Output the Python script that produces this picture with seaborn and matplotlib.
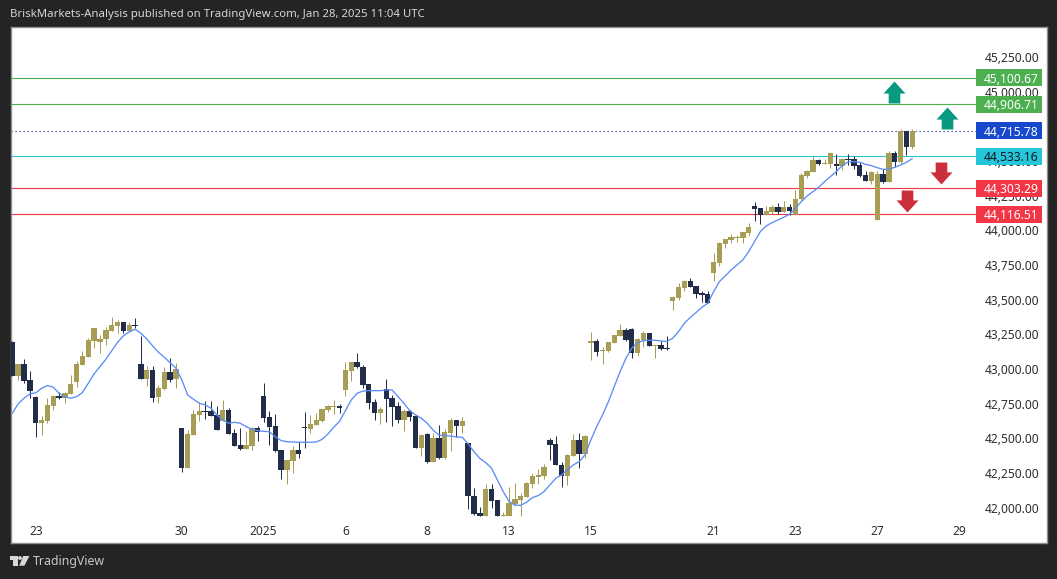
import matplotlib
matplotlib.use("Agg")
import matplotlib.pyplot as plt
import matplotlib.transforms as mtransforms
from matplotlib.patches import Polygon, Circle, Rectangle
from matplotlib.path import Path
import pandas as pd
import seaborn as sns

# Four-hour candles of the index
opens = [43195,42950,43037,42922,42799,42612,42626,42734,42806,42792,42821,42907,43030,43087,43203,43195,43217,43275,43311,43339,43275,43315,43037,42929,42994,42799,42857,42979,42929,42576,42287,42525,42669,42698,42698,42669,42626,42705,42540,42453,42424,42446,42576,
         42805,42654,42589,42416,42272,42337,42416,42582,42568,42596,42625,42705,42726,42733,42849,42986,43050,43014,42892,42762,42683,42856,42791,42733,42633,42697,42661,42431,42532,42330,42503,42359,42539,42633,42589,42467,42085,
         41963,41941,42136,42057,41941,41941,42028,42057,42078,42172,42222,42230,42489,42460,42309,42230,42374,42489,42388,43188,43202,43130,43130,43188,43238,43282,43289,43116,43210,43260,43166,43174,43152,43491,43512,43584,43635,43599,43548,43541,
         43692,43764,43901,43930,43945,43945,43981,44175,44161,44110,44132,44168,44132,44168,44110,44226,44391,44420,44507,44478,44478,44478,44463,44514,44514,44471,44399,44355,44074,44406,44348,44557,44492,44716,44600]
highs = [43203,43037,43073,42986,42806,42662,42792,42813,42835,42835,42958,43058,43130,43224,43296,43246,43303,43375,43354,43339,43339,43368,43239,43022,43022,42885,43015,43080,43044,42576,42561,42705,42763,42770,42770,42734,42777,42720,42568,42576,42554,42583,42590,
         42899,42697,42676,42416,42344,42445,42474,42690,42669,42683,42712,42741,42777,42748,43050,43050,43115,43029,42892,42784,42726,42928,42813,42762,42712,42705,42661,42532,42539,42539,42596,42568,42647,42633,42654,42467,42143,
         42005,42172,42172,42057,41970,42150,42179,42107,42186,42251,42280,42316,42503,42518,42330,42388,42532,42539,42525,43267,43217,43159,43195,43246,43325,43296,43296,43224,43274,43260,43174,43202,43238,43527,43620,43642,43656,43599,43563,43563,
         43837,43916,43937,43973,43966,43988,44053,44204,44161,44175,44182,44197,44211,44190,44291,44413,44435,44536,44514,44514,44557,44550,44521,44550,44536,44492,44427,44427,44427,44442,44572,44572,44730,44716,44730]
lows = [42950,42922,42900,42792,42511,42525,42612,42705,42785,42756,42821,42871,43030,43087,43152,43116,43174,43275,43260,43260,43275,43296,42929,42878,42763,42756,42849,42907,42864,42259,42287,42525,42626,42640,42662,42561,42626,42532,42446,42417,42424,42417,42482,
        42618,42452,42402,42207,42171,42251,42359,42431,42539,42596,42618,42690,42676,42683,42805,42914,43007,42863,42712,42633,42604,42618,42589,42611,42553,42625,42431,42373,42323,42330,42351,42351,42409,42510,42539,41991,41948,
        41941,41941,42000,41941,41941,41941,42021,41941,42078,42143,42172,42208,42345,42309,42150,42165,42374,42287,42359,43065,43094,43037,43123,43188,43238,43202,43080,43094,43159,43166,43080,43138,43138,43426,43498,43563,43591,43512,43483,43476,
        43635,43743,43873,43909,43916,43909,43959,44067,44046,44110,44118,44118,44132,44110,44110,44218,44377,44420,44471,44478,44449,44399,44435,44471,44442,44384,44355,44334,44074,44341,44348,44456,44478,44543,44586]
closes = [42950,43037,42914,42842,42612,42633,42741,42806,42792,42828,42893,43037,43094,43210,43296,43217,43282,43318,43339,43275,43318,43311,42929,42994,42792,42864,42979,42922,43001,42287,42532,42677,42698,42691,42662,42561,42705,42532,42446,42424,42453,42576,42547,
          42647,42582,42409,42272,42344,42416,42388,42575,42604,42633,42712,42733,42733,42719,42993,43050,43014,42885,42755,42683,42712,42784,42726,42633,42697,42654,42431,42524,42330,42503,42359,42546,42633,42589,42625,42085,41955,
          41941,42136,42049,41941,41948,42035,42064,42085,42179,42230,42237,42294,42453,42309,42230,42381,42489,42388,42518,43202,43123,43138,43195,43246,43282,43210,43116,43217,43260,43166,43174,43145,43145,43519,43591,43635,43591,43541,43534,43476,
          43772,43909,43937,43952,43952,43988,44024,44154,44110,44139,44168,44132,44168,44139,44226,44399,44427,44507,44478,44485,44557,44463,44514,44507,44463,44391,44355,44420,44406,44348,44557,44492,44716,44600,44715.78]

# Moving average drawn over the candles
moving_avg = [42681,42749,42789,42821,42828,42861,42881,42869,42825,42801,42789,42801,42830,42898,42965,43018,43070,43130,43191,43239,43267,43287,43258,43217,43167,43121,43085,43046,43006,42922,42813,42782,42753,42741,42717,42669,42633,42609,42616,42609,42585,42566,42556,
              42551,42548,42512,42484,42476,42474,42472,42472,42472,42474,42493,42532,42580,42623,42700,42777,42825,42841,42844,42844,42844,42849,42849,42801,42753,42700,42669,42645,42609,42560,42524,42520,42517,42510,42508,42460,42404,42356,
              42326,42285,42201,42117,42045,42018,42018,42040,42073,42088,42117,42165,42213,42237,42273,42309,42333,42381,42489,42585,42669,42765,42873,42981,43077,43150,43190,43205,43207,43207,43202,43198,43222,43270,43330,43371,43407,43445,43474,43558,43630,43671,43714,
              43750,43786,43846,43918,43990,44031,44055,44074,44094,44115,44158,44206,44247,44279,44310,44351,44387,44423,44466,44492,44495,44490,44475,44466,44451,44439,44439,44454,44471,44490,44516]

# Horizontal price levels and their tags
level_prices = [45100.67, 44906.71, 44533.16, 44303.29, 44116.51]
level_labels = ["45,100.67", "44,906.71", "44,533.16", "44,303.29", "44,116.51"]
level_colors = ["#4CAF50", "#4CAF50", "#26C6DA", "#F23645", "#F23645"]
level_text = ["#ffffff", "#ffffff", "#131722", "#ffffff", "#ffffff"]
last_price = 44715.78
last_label = "44,715.78"

# Scenario arrows: candle slot and price
up_arrow_x = [150.9, 159.9]
up_arrow_y = [44997, 44809]
down_arrow_x = [158.9, 153.1]
down_arrow_y = [44413, 44211]

# Axis ticks
date_ticks = [4, 29, 43, 57, 71, 85, 99, 120, 134, 148, 162]
date_labels = ["23", "30", "2025", "6", "8", "13", "15", "21", "23", "27", "29"]
price_ticks = list(range(42000, 45500, 250))

GOLD = "#A89D55"
NAVY = "#222D4A"
FRAME = "#242424"

sns.set_theme(style="white")
plt.rcParams["font.family"] = ["Noto Sans", "DejaVu Sans"]

df = pd.DataFrame({"slot": range(len(opens)), "open": opens, "high": highs,
                   "low": lows, "close": closes, "ma": moving_avg})
df["rising"] = df["close"] >= df["open"]
df["colour"] = df["rising"].map({True: GOLD, False: NAVY})

fig = plt.figure(figsize=(10.57, 5.79), dpi=100, facecolor=FRAME)
ax = fig.add_axes([10.5 / 1057, 36 / 579, 1036.5 / 1057, 516 / 579])
ax.set_facecolor("white")

# Candles: wick first, then the body, with the wick snapped to a single pixel
wicks = ax.vlines(df["slot"], df["low"], df["high"], colors=df["colour"], linewidth=0.72, zorder=2)
wicks.set_snap(True)
ax.bar(df["slot"], (df["close"] - df["open"]).abs(), bottom=df[["open", "close"]].min(axis=1),
       width=0.92, color=df["colour"], linewidth=0, zorder=3)

sns.lineplot(data=df, x="slot", y="ma", ax=ax, color="#5B8DF5", linewidth=0.95,
             legend=False, zorder=4)

# Level lines stop at the tag column
line_end = (976 - 10.5) / 1036.5
for price, colour in zip(level_prices, level_colors):
    ax.axhline(price, xmax=line_end, color=colour, linewidth=0.8, zorder=1)
ax.axhline(last_price, xmax=line_end, color="#2A3A9C", linewidth=0.9,
           linestyle=(0, (1, 2.2)), zorder=1)

# Block arrows as custom markers
up_path = Path([(-1, -0.1), (0, 1), (1, -0.1), (0.53, -0.1), (0.53, -1), (-0.53, -1), (-0.53, -0.1), (-1, -0.1)], closed=True)
down_path = Path([(-1, 0.1), (0, -1), (1, 0.1), (0.53, 0.1), (0.53, 1), (-0.53, 1), (-0.53, 0.1), (-1, 0.1)], closed=True)
ax.scatter(up_arrow_x, up_arrow_y, marker=up_path, s=250, color="#089981", linewidth=0, zorder=5)
ax.scatter(down_arrow_x, down_arrow_y, marker=down_path, s=250, color="#CC2F3C", linewidth=0, zorder=5)

ax.set_xlim(-0.31, 177.05)
ax.set_ylim(41746, 45465)
ax.set_xlabel("")
ax.set_ylabel("")

ax.set_xticks(date_ticks)
x_labels = ax.set_xticklabels(date_labels, fontsize=8.6, color="#2e2e2e")
ax.tick_params(axis="x", length=0, pad=-13, direction="in")
x_labels[date_labels.index("2025")].set_fontweight("bold")

ax.yaxis.tick_right()
ax.set_yticks(price_ticks)
y_labels = ax.set_yticklabels([f"{p:,.2f}" for p in price_ticks], fontsize=8.6, color="#2e2e2e")
ax.tick_params(axis="y", length=0, pad=-45, direction="in")
for lab in y_labels:
    lab.set_verticalalignment("center_baseline")
    lab.set_zorder(1)

for side in ax.spines.values():
    side.set_color("#8f8f8f")
    side.set_linewidth(1)

# Price tags sit on top of the tick labels
tag_x = mtransforms.blended_transform_factory(ax.transAxes, ax.transData)
tag_text_left = (984 - 10.5) / 1036.5
tag_box_left = (976 - 10.5) / 1036.5
tag_box_width = 66 / 1036.5
tag_box_height = 122


def price_tag(price, label, fill, ink):
    ax.add_patch(Rectangle((tag_box_left, price - tag_box_height / 2), tag_box_width, tag_box_height,
                           transform=tag_x, fc=fill, ec="none", zorder=6))
    ax.text(tag_text_left, price, label, transform=tag_x, ha="left", va="center_baseline",
            fontsize=8.7, fontweight="semibold", color=ink, zorder=7)


for price, label, colour, ink in zip(level_prices, level_labels, level_colors, level_text):
    price_tag(price, label, colour, ink)
price_tag(last_price, last_label, "#1848CC", "#ffffff")

fig.text(10 / 1057, 1 - 14.5 / 579,
         "BriskMarkets-Analysis published on TradingView.com, Jan 28, 2025 11:04 UTC",
         fontsize=8.2, color="#d6d6d6", ha="left", va="center")
fig.text(33 / 1057, 1 - 561 / 579, "TradingView", fontsize=8.9, color="#c9c9c9",
         ha="left", va="center")

# Footer logo, laid out in pixels from the top-left corner
px = mtransforms.Affine2D().scale(1, -1).translate(0, 579)
logo = "#d8d8d8"
fig.add_artist(Polygon([(10, 556), (17.5, 556), (17.5, 565.7), (13.2, 565.7), (13.2, 559.6), (10, 559.6)],
                       closed=True, fc=logo, ec="none", transform=px))
fig.add_artist(Circle((20, 558), 1.9, fc=logo, ec="none", transform=px))
fig.add_artist(Polygon([(23.2, 556), (29.4, 556), (24.4, 565.7), (19.2, 565.7)],
                       closed=True, fc=logo, ec="none", transform=px))

fig.savefig("out.png", dpi=100, facecolor=FRAME)
